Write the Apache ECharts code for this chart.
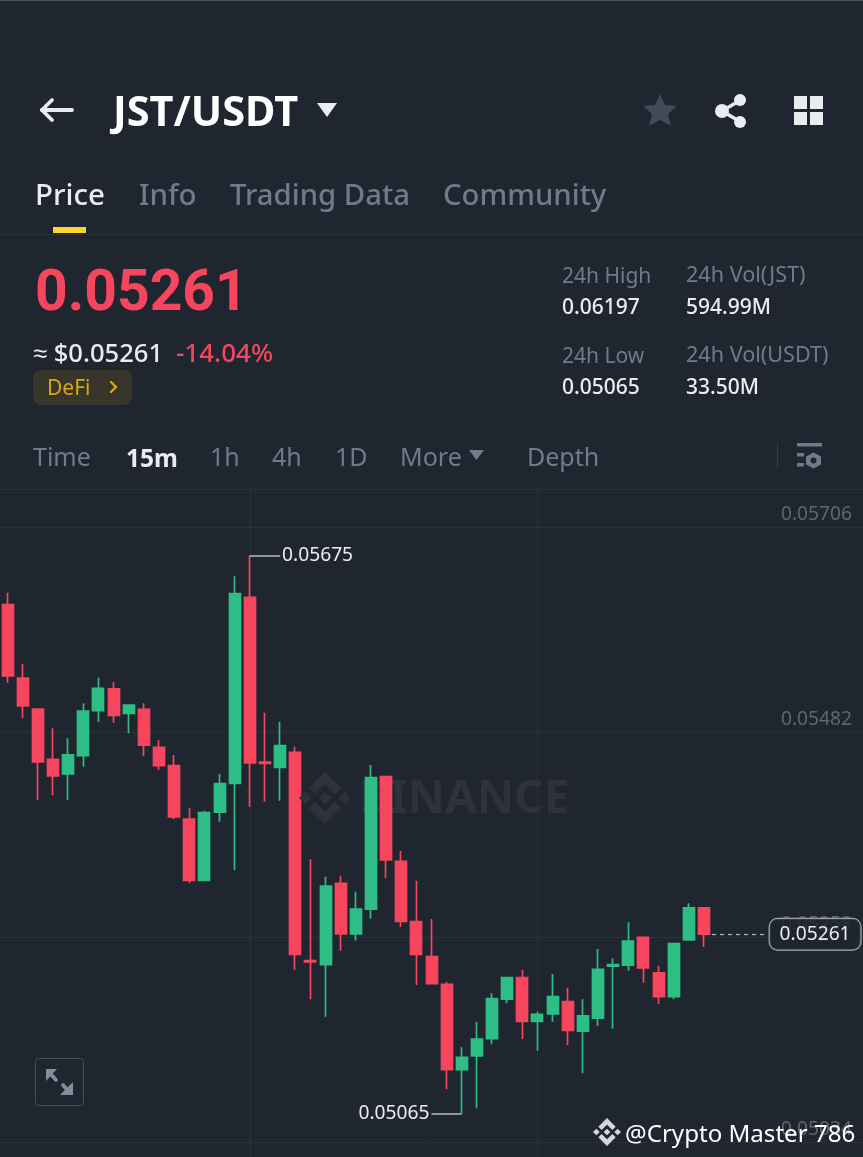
<!DOCTYPE html>
<html>
<head>
<meta charset="utf-8">
<style>
html, body { margin: 0; padding: 0; background: #1f2630; }
#chart { width: 863px; height: 1157px; }
</style>
<script src="https://cdn.jsdelivr.net/npm/echarts@6/dist/echarts.min.js"></script>
</head>
<body>
<div id="chart"></div>
<script>
// 15m candles
var categories = ['1','2','3','4','5','6','7','8','9','10','11','12','13','14','15','16','17','18','19','20',
  '21','22','23','24','25','26','27','28','29','30','31','32','33','34','35','36','37','38','39','40',
  '41','42','43','44','45','46','47','48','49','50','51','52','53','54','55','56','57'];
var opens = [0.056211,0.055410,0.055071,0.054522,0.054361,0.054561,0.055053,0.055290,0.055024,0.055068,
  0.054653,0.054452,0.053869,0.053199,0.053943,0.054259,0.056292,0.054492,0.054434,0.054598,
  0.052321,0.052277,0.053167,0.052613,0.052883,0.054332,0.053407,0.052747,0.052365,0.052063,
  0.051130,0.051280,0.051469,0.051902,0.052135,0.051659,0.051739,0.051875,0.051550,0.051692,
  0.052260,0.052271,0.052577,0.052187,0.051928,0.052547,0.052897];
var closes = [0.055432,0.055104,0.054492,0.054339,0.054569,0.055049,0.055297,0.055002,0.055115,0.054675,
  0.054452,0.053891,0.053199,0.053938,0.054255,0.056331,0.054481,0.054478,0.054670,0.052391,
  0.052307,0.053137,0.052613,0.052886,0.054321,0.053421,0.052751,0.052391,0.052070,0.051130,
  0.051265,0.051465,0.051906,0.052135,0.051659,0.051735,0.051928,0.051560,0.051717,0.052227,
  0.052277,0.052536,0.052241,0.051928,0.052507,0.052897,0.052610];
var lows = [0.055359,0.054970,0.054077,0.054128,0.054077,0.054441,0.054929,0.054922,0.054806,0.054558,
  0.054405,0.053866,0.053167,0.053199,0.053840,0.053312,0.054004,0.054058,0.054069,0.052219,
  0.051899,0.051709,0.052430,0.052540,0.052780,0.053221,0.052689,0.052055,0.052070,0.050916,
  0.050650,0.050708,0.051407,0.051855,0.051465,0.051338,0.051654,0.051400,0.051091,0.051607,
  0.051578,0.052212,0.052081,0.051848,0.051899,0.052547,0.052471];
var highs = [0.056342,0.055563,0.055079,0.054860,0.054751,0.055134,0.055413,0.055363,0.055115,0.055134,
  0.054733,0.054569,0.053986,0.053960,0.054361,0.056521,0.056750,0.055031,0.054933,0.054659,
  0.053429,0.053239,0.053250,0.053075,0.054459,0.054332,0.053520,0.053195,0.052777,0.052092,
  0.051375,0.051654,0.051965,0.052146,0.052219,0.051764,0.052176,0.052026,0.051899,0.052449,
  0.052347,0.052741,0.052577,0.052266,0.052507,0.052948,0.052897];
var tickLabels = [0.05706, 0.05482, 0.05258, 0.05034];
var highNote = 0.05675, lowNote = 0.05065, lastPrice = 0.05261;

var BG = '#1f2630', RED = '#f6465d', GREEN = '#2ebd85', LINE = '#2b3139', GREY = '#6f7b8c', LIGHT = '#eaecef';
var FONT = '"Noto Sans", sans-serif';

function txt(x, y, s, size, color, weight, family) {
  return {
    type: 'text', x: x, y: y, z: 50, silent: true,
    style: { text: s, fontFamily: family || FONT, fontSize: size, fill: color, fontWeight: weight || 400,
             verticalAlign: 'middle', textAlign: 'left' }
  };
}
function rect(x, y, w, h, fill, r, z) {
  return { type: 'rect', z: z || 50, silent: true, shape: { x: x, y: y, width: w, height: h, r: r || 0 }, style: { fill: fill } };
}
function poly(points, fill, z) {
  return { type: 'polygon', z: z || 50, silent: true, shape: { points: points }, style: { fill: fill } };
}
function lineEl(x1, y1, x2, y2, color, w, z) {
  return { type: 'line', z: z || 50, silent: true, shape: { x1: x1, y1: y1, x2: x2, y2: y2 }, style: { stroke: color, lineWidth: w, lineCap: 'round' } };
}
// binance style logo, five pieces
function logo(cx, cy, s, color, z) {
  function pts(list) { return list.map(function (p) { return [cx + p[0] * s, cy + p[1] * s]; }); }
  function dia(dx) { return pts([[dx, -0.24], [dx + 0.24, 0], [dx, 0.24], [dx - 0.24, 0]]); }
  return [
    poly(dia(0), color, z), poly(dia(-0.76), color, z), poly(dia(0.76), color, z),
    poly(pts([[0, -1], [0.62, -0.38], [0.38, -0.14], [0, -0.52], [-0.38, -0.14], [-0.62, -0.38]]), color, z),
    poly(pts([[0, 1], [0.62, 0.38], [0.38, 0.14], [0, 0.52], [-0.38, 0.14], [-0.62, 0.38]]), color, z)
  ];
}

var graphics = [
  rect(0, 0, 863, 1, '#474d57'),
  // header
  lineEl(42, 110, 72, 110, LIGHT, 3.8), lineEl(42, 110, 52, 100, LIGHT, 3.8), lineEl(42, 110, 52, 120, LIGHT, 3.8),
  txt(113, 114, 'JST/USDT', 41.5, '#ffffff', 700),
  poly([[317, 103], [337, 103], [327, 117]], LIGHT),
  poly([[660, 94], [665, 105], [677, 106], [668, 114], [671, 126], [660, 120], [649, 126], [652, 114], [643, 106], [655, 105]], '#3f4a5a'),
  lineEl(722, 111, 739, 101, LIGHT, 3.4), lineEl(722, 111, 739, 121, LIGHT, 3.4),
  { type: 'circle', z: 50, silent: true, shape: { cx: 722, cy: 111, r: 7 }, style: { fill: LIGHT } },
  { type: 'circle', z: 50, silent: true, shape: { cx: 740, cy: 100, r: 6 }, style: { fill: LIGHT } },
  { type: 'circle', z: 50, silent: true, shape: { cx: 740, cy: 122, r: 6 }, style: { fill: LIGHT } },
  rect(794, 96, 13, 13, LIGHT), rect(810, 96, 13, 13, LIGHT), rect(794, 112, 13, 13, LIGHT), rect(810, 112, 13, 13, LIGHT),
  // tabs
  txt(35, 197, 'Price', 29.5, LIGHT, 500),
  txt(139, 197, 'Info', 29.5, GREY, 500),
  txt(230, 197, 'Trading Data', 29.3, GREY, 500),
  txt(443, 197, 'Community', 29.3, GREY, 500),
  rect(53, 227, 33, 6, '#fcd535'),
  rect(0, 234, 863, 1, LINE),
  // price block
  txt(35, 296, '0.05261', 57, RED, 700, 'Roboto'),
  txt(33, 355, '≈ $0.05261', 25.6, LIGHT, 500),
  txt(176, 355, '-14.04%', 26, RED, 500),
  rect(33, 370, 99, 35, '#38362a', 8),
  txt(47, 389, 'DeFi', 21, '#dba80b'),
  lineEl(111, 382, 116, 387, '#dba80b', 2.4), lineEl(116, 387, 111, 392, '#dba80b', 2.4),
  // 24h stats
  txt(562, 277, '24h High', 21, GREY),
  txt(562, 308, '0.06197', 21, LIGHT, 500),
  txt(686, 276, '24h Vol(JST)', 21.6, GREY),
  txt(686, 308, '594.99M', 21, LIGHT, 500),
  txt(562, 357, '24h Low', 21, GREY),
  txt(562, 388, '0.05065', 21, LIGHT, 500),
  txt(686, 356, '24h Vol(USDT)', 21.6, GREY),
  txt(686, 388, '33.50M', 21, LIGHT, 500),
  // interval row
  txt(33, 459, 'Time', 25, GREY),
  txt(126, 460, '15m', 24.5, LIGHT, 700),
  txt(210, 459, '1h', 25, GREY),
  txt(272, 459, '4h', 25, GREY),
  txt(335, 459, '1D', 25, GREY),
  txt(400, 459, 'More', 25, GREY),
  poly([[469, 450], [484, 450], [476.5, 460]], GREY),
  txt(527, 459, 'Depth', 25, GREY),
  rect(777, 442, 1, 27, '#343b45'),
  rect(797, 443, 25, 3.5, GREY), rect(797, 453, 7, 3.5, GREY), rect(797, 463, 7, 3.5, GREY),
  poly([[813.5, 452.5], [821, 456.5], [821, 464.5], [813.5, 468.5], [806, 464.5], [806, 456.5]], GREY),
  { type: 'circle', z: 51, silent: true, shape: { cx: 813.5, cy: 460.5, r: 3 }, style: { fill: BG } },
  rect(0, 489, 863, 1, LINE),
  // watermark behind candles
  { type: 'text', x: 359, y: 800, z: 0, silent: true,
    style: { text: 'BINANCE', fontFamily: FONT, fontSize: 46, fontWeight: 700, fill: '#2d323b', verticalAlign: 'middle' } },
  // expand button
  { type: 'rect', z: 50, silent: true, shape: { x: 35.5, y: 1058.5, width: 48, height: 47, r: 3 }, style: { fill: 'none', stroke: '#474d57', lineWidth: 1 } },
  lineEl(50, 1073, 56, 1080, '#848e9c', 3.6), poly([[46, 1069], [57, 1069], [46, 1081]], '#848e9c'),
  lineEl(63, 1085, 69, 1092, '#848e9c', 3.6), poly([[73, 1082], [73, 1095], [60, 1095]], '#848e9c'),
  // credit
  txt(625, 1135, '@Crypto Master 786', 24.1, '#ffffff', 400)
].concat(logo(325, 798, 26, '#2d323b', 0)).concat(logo(607, 1132, 14, '#d5d7da', 50));

var chart = echarts.init(document.getElementById('chart'));

var noteLabel = { show: true, position: 'end', distance: 2, formatter: '{b}', color: LIGHT, fontFamily: FONT, fontSize: 19.2 };

var option = {
  animation: false,
  backgroundColor: BG,
  graphic: graphics,
  grid: { left: -1, top: 490, width: 864.7, height: 667 },
  xAxis: {
    type: 'category',
    data: categories,
    boundaryGap: true,
    axisLine: { show: false },
    axisTick: { show: false },
    axisLabel: { show: false },
    splitLine: {
      show: true,
      alignWithLabel: true,
      interval: function (i) { return i === 16 || i === 35; },
      lineStyle: { color: LINE, width: 1 }
    }
  },
  yAxis: {
    type: 'value',
    position: 'right',
    min: 0.050176,
    max: 0.057464,
    axisLine: { show: false },
    axisTick: { show: false, customValues: tickLabels },
    axisLabel: {
      inside: true,
      margin: 11,
      customValues: tickLabels,
      formatter: function (v) { return v.toFixed(5); },
      color: '#5e6673',
      fontFamily: FONT,
      fontSize: 19.2,
      verticalAlign: 'bottom',
      padding: [0, 0, 3, 0]
    },
    splitLine: { show: true, lineStyle: { color: LINE, width: 1 } }
  },
  series: [{
    type: 'candlestick',
    barWidth: 11.5,
    silent: true,
    itemStyle: { color: GREEN, color0: RED, borderColor: GREEN, borderColor0: RED, borderWidth: 1.7 },
    data: opens.map(function (o, i) { return [o, closes[i], lows[i], highs[i]]; }),
    markLine: {
      silent: true,
      z: 1,
      symbol: 'none',
      animation: false,
      data: [
        [{ name: highNote.toFixed(5), xAxis: 16, yAxis: highNote, lineStyle: { color: '#b7bdc6', width: 1.5, type: 'solid' }, label: noteLabel },
         { xAxis: 18, yAxis: highNote }],
        [{ name: lowNote.toFixed(5), xAxis: 30, yAxis: lowNote, lineStyle: { color: '#b7bdc6', width: 1.5, type: 'solid' }, label: noteLabel },
         { xAxis: 28, yAxis: lowNote }],
        [{ name: lastPrice.toFixed(5), xAxis: 46, yAxis: lastPrice, lineStyle: { color: '#b7bdc6', width: 1.2, type: [4, 4] },
           label: { show: true, position: 'end', distance: 5, formatter: '{b}', color: LIGHT, fontFamily: FONT, fontSize: 19.2,
                    backgroundColor: 'rgba(31,38,48,0.82)', borderColor: '#b7bdc6', borderWidth: 1, borderRadius: 8, padding: [7, 10, 5, 10] } },
         { xAxis: 50, yAxis: lastPrice }]
      ]
    }
  }]
};
chart.setOption(option);
</script>
</body>
</html>
